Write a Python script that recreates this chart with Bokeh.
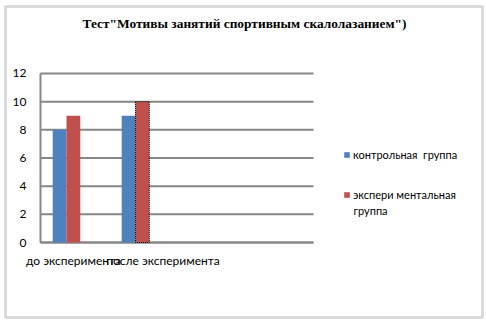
from bokeh.plotting import figure
from bokeh.models import (ColumnDataSource, Range1d, Legend, LegendItem,
                          Label, BoxAnnotation, CDSView, IndexFilter)
from bokeh.embed import file_html
from bokeh.resources import INLINE

categories = ["до эксперимента", "после  эксперимента"]
control = [8, 9]
experimental = [9, 10]
series_names = ["контрольная  группа", "экспери ментальная"]
series_name_continuation = "группа"
y_ticks = [0, 2, 4, 6, 8, 10, 12]
y_tick_labels = ["0", "2", "4", "6", "8", "10", "12"]

# plot area in data units (4 category slots)
X_LEFT, X_RIGHT = -0.377, 3.58

idx = list(range(len(categories)))
src = ColumnDataSource(dict(
    x=idx,
    xb=[i - 0.1 for i in idx],
    xr=[i + 0.1 for i in idx],
    control=control,
    experimental=experimental,
    label=categories,
    y0=[0] * len(idx),
    xoff=[7, 29],
))
tick_src = ColumnDataSource(dict(
    y=y_ticks, label=y_tick_labels,
    x0=[X_LEFT] * len(y_ticks), x1=[X_RIGHT] * len(y_ticks),
))

p = figure(width=486, height=321, output_backend="svg", toolbar_location=None,
           x_range=Range1d(-0.9565, 6.087), y_range=Range1d(-5.609, 17.183),
           x_axis_type=None, y_axis_type=None, min_border=0)
p.outline_line_color = None
p.background_fill_color = "white"
p.border_fill_color = "white"
p.grid.visible = False

grey = "#868686"
blue = "#4F81BD"
red = "#C0504D"
FONT = "Lato"
FS = "12px"
LFS = "11px"

# horizontal gridlines
p.segment(x0="x0", x1="x1", y0="y", y1="y", source=tick_src, line_color=grey, line_width=2)
# axis lines
p.segment(x0=[X_LEFT], x1=[X_LEFT], y0=[0], y1=[max(y_ticks)], line_color=grey, line_width=2)
p.segment(x0=[X_LEFT], x1=[X_RIGHT], y0=[0], y1=[0], line_color=grey, line_width=2)

rb = p.vbar(x="xb", top="control", width=0.2, source=src, fill_color=blue, line_color=None)
rr = p.vbar(x="xr", top="experimental", width=0.2, source=src, fill_color=red, line_color=None)
# selection outline seen on the second red bar
p.vbar(x="xr", top="experimental", width=0.2, source=src, view=CDSView(filter=IndexFilter([1])),
       fill_alpha=0, line_color="black", line_dash="1 1", line_width=1)

# y tick labels
p.text(x="x0", y="y", text="label", source=tick_src, x_offset=-14,
       text_align="right", text_baseline="middle", text_font={"value": FONT},
       text_font_size={"value": FS}, text_color="#000000")
# category labels
p.text(x="x", y="y0", text="label", source=src, x_offset="xoff", y_offset=18,
       text_align="center", text_baseline="middle", text_font={"value": FONT},
       text_font_size={"value": FS}, text_color="#000000")

title = Label(x=244, y=298, x_units="screen", y_units="screen",
              text='Тест"Мотивы занятий спортивным скалолазанием")',
              text_align="center", text_baseline="middle", text_font="Liberation Serif",
              text_font_style="bold", text_font_size="13.4px", text_color="#000000")
p.add_layout(title)

border = BoxAnnotation(left=5, right=482, top=315, bottom=4,
                       left_units="screen", right_units="screen", top_units="screen", bottom_units="screen",
                       fill_alpha=0, line_color=grey, line_width=3)
p.add_layout(border)

common = dict(padding=0, margin=0, glyph_width=7, glyph_height=7, label_standoff=3,
              label_height=14, label_text_font=FONT, label_text_font_size=LFS,
              label_text_color="#000000", border_line_color=None, background_fill_alpha=0)
leg1 = Legend(items=[LegendItem(label=series_names[0], renderers=[rb])], location=(343, 160), **common)
leg2 = Legend(items=[LegendItem(label=series_names[1], renderers=[rr])], location=(343, 120), **common)
p.add_layout(leg1)
p.add_layout(leg2)
p.add_layout(Label(x=353, y=111, x_units="screen", y_units="screen", text=series_name_continuation,
                   text_align="left", text_baseline="middle", text_font=FONT, text_font_size=LFS,
                   text_color="#000000"))

open("out.html", "w").write(file_html(p, INLINE))
